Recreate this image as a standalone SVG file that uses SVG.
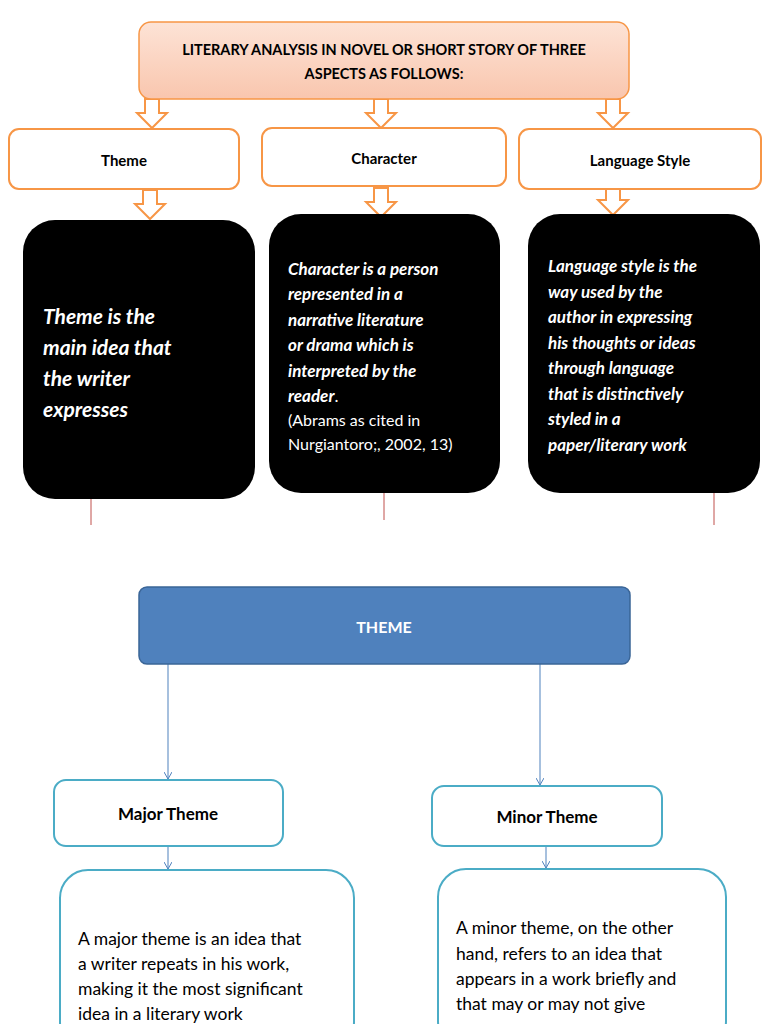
<svg xmlns="http://www.w3.org/2000/svg" width="768" height="1024" viewBox="0 0 768 1024">
<style>
text{font-family:Lato,"Open Sans","Liberation Sans",sans-serif;fill:#000}
.ob{fill:#fff;stroke:#f79646;stroke-width:2}
.ha{fill:#fff;stroke:#f79646;stroke-width:2}
.blk{fill:#000}
.w{fill:#fff;font-style:italic;font-weight:bold}
.bb{fill:#fff;stroke:#4bacc6;stroke-width:2}
.ln{stroke:#4f81bd;stroke-width:1;fill:none}
</style>
<defs>
<linearGradient id="pg" x1="0" y1="0" x2="0" y2="1"><stop offset="0" stop-color="#fde3d6"/><stop offset="1" stop-color="#f9c6ae"/></linearGradient>
<marker id="ar" markerWidth="8" markerHeight="8" refX="7" refY="4" orient="auto" markerUnits="userSpaceOnUse"><path d="M0,0 L7,4 L0,8" fill="none" stroke="#4f81bd"/></marker>
</defs>
<g id="connectors">
<path class="ha" d="M145,99 h14 v14 h8 l-15,15 l-15,-15 h8 z"/>
<path class="ha" d="M374,99 h14 v14 h8 l-15,15 l-15,-15 h8 z"/>
<path class="ha" d="M606,99 h14 v14 h8 l-15,15 l-15,-15 h8 z"/>
<path class="ha" d="M143,190 h14 v14 h8 l-15,15 l-15,-15 h8 z"/>
<path class="ha" d="M374,188 h14 v14 h8 l-15,15 l-15,-15 h8 z"/>
<path class="ha" d="M606,186 h14 v14 h8 l-15,15 l-15,-15 h8 z"/>
<line x1="91" y1="493" x2="91" y2="525" stroke="#c0504d"/>
<line x1="384" y1="493" x2="384" y2="520" stroke="#c0504d"/>
<line x1="714" y1="493" x2="714" y2="525" stroke="#c0504d"/>
<line class="ln" x1="168" y1="664" x2="168" y2="779" marker-end="url(#ar)"/>
<line class="ln" x1="540" y1="664" x2="540" y2="785" marker-end="url(#ar)"/>
<line class="ln" x1="168" y1="846" x2="168" y2="869" marker-end="url(#ar)"/>
<line class="ln" x1="546" y1="846" x2="546" y2="868" marker-end="url(#ar)"/>
</g>
<g id="top">
<rect x="139" y="22" width="490" height="77" rx="12" fill="url(#pg)" stroke="#f79646" stroke-width="1.5"/>
<text x="384" y="55" text-anchor="middle" font-size="14.5" font-weight="bold">LITERARY ANALYSIS IN NOVEL OR SHORT STORY OF THREE</text>
<text x="384" y="79" text-anchor="middle" font-size="14.5" font-weight="bold">ASPECTS AS FOLLOWS:</text>
</g>
<g id="theme"><rect class="ob" x="9" y="129" width="230" height="60" rx="10"/><text x="124" y="166" text-anchor="middle" font-size="15" font-weight="bold">Theme</text></g>
<g id="character"><rect class="ob" x="262" y="128" width="244" height="58" rx="10"/><text x="384" y="164" text-anchor="middle" font-size="15" font-weight="bold">Character</text></g>
<g id="language"><rect class="ob" x="519" y="129" width="242" height="60" rx="10"/><text x="640" y="166" text-anchor="middle" font-size="15" font-weight="bold">Language Style</text></g>
<g id="themeDef"><rect class="blk" x="23" y="220" width="232" height="279" rx="32"/>
<text class="w" font-size="21"><tspan x="43" y="324">Theme is the</tspan><tspan x="43" y="355">main idea that</tspan><tspan x="43" y="386">the writer</tspan><tspan x="43" y="417">expresses</tspan></text></g>
<g id="charDef"><rect class="blk" x="269" y="214" width="231" height="279" rx="32"/>
<text class="w" font-size="17"><tspan x="288" y="275">Character is a person</tspan><tspan x="288" y="300">represented  in a</tspan><tspan x="288" y="326">narrative literature</tspan><tspan x="288" y="351">or drama which is</tspan><tspan x="288" y="377">interpreted by the</tspan><tspan x="288" y="402">reader<tspan font-style="normal" font-weight="normal">.</tspan></tspan></text>
<text font-size="16" style="fill:#fff"><tspan x="288" y="426">(Abrams as cited in</tspan><tspan x="288" y="450">Nurgiantoro;, 2002, 13)</tspan></text></g>
<g id="langDef"><rect class="blk" x="528" y="214" width="232" height="279" rx="32"/>
<text class="w" font-size="17"><tspan x="548" y="272">Language style is the</tspan><tspan x="548" y="298">way used by the</tspan><tspan x="548" y="323">author in expressing</tspan><tspan x="548" y="349">his thoughts or ideas</tspan><tspan x="548" y="374">through language</tspan><tspan x="548" y="400">that is distinctively</tspan><tspan x="548" y="425">styled in a</tspan><tspan x="548" y="451">paper/literary work</tspan></text></g>
<g id="THEME"><rect x="139" y="587" width="491" height="77" rx="8" fill="#4f81bd" stroke="#3a6597" stroke-width="1.5"/><text x="384" y="633" text-anchor="middle" font-size="16" font-weight="bold" style="fill:#fff">THEME</text></g>
<g id="major"><rect class="bb" x="54" y="780" width="229" height="66" rx="12"/><text x="168" y="820" text-anchor="middle" font-size="17" font-weight="bold">Major Theme</text></g>
<g id="minor"><rect class="bb" x="432" y="786" width="230" height="60" rx="12"/><text x="547" y="823" text-anchor="middle" font-size="17" font-weight="bold">Minor Theme</text></g>
<g id="majorDef"><rect class="bb" x="60" y="870" width="294" height="180" rx="28"/>
<text font-size="17.5"><tspan x="78" y="945">A major theme is an idea that</tspan><tspan x="78" y="970">a writer repeats in his work,</tspan><tspan x="78" y="995">making it the most significant</tspan><tspan x="78" y="1020">idea in a literary work</tspan></text></g>
<g id="minorDef"><rect class="bb" x="438" y="869" width="288" height="180" rx="28"/>
<text font-size="17.5"><tspan x="456" y="934">A minor theme, on the other</tspan><tspan x="456" y="960">hand, refers to an idea that</tspan><tspan x="456" y="985">appears in a work briefly and</tspan><tspan x="456" y="1010">that may or may not give</tspan></text></g>
</svg>
